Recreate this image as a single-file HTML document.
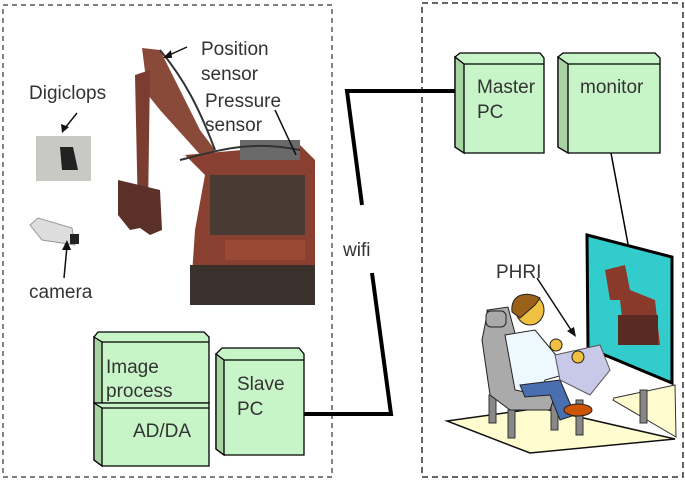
<!DOCTYPE html>
<html><head><meta charset="utf-8"><style>
html,body{margin:0;padding:0;background:#fff;}
svg{display:block;}
text{font-family:"Liberation Sans","DejaVu Sans",sans-serif;fill:#333;}
</style></head><body>
<svg width="685" height="481" viewBox="0 0 685 481" xmlns="http://www.w3.org/2000/svg">
<rect x="3" y="5" width="329" height="472" fill="none" stroke="#333" stroke-width="1.2" stroke-dasharray="5,4"/>
<rect x="422" y="3" width="261" height="474" fill="none" stroke="#333" stroke-width="1.5" stroke-dasharray="6,4"/>

<!-- robot photo approximation -->
<g>
<polygon points="142,48 160,50 200,130 215,150 205,160 160,110 148,95" fill="#8a4a3a"/>
<polygon points="135,75 150,70 148,210 138,215" fill="#7b3d30"/>
<polygon points="118,180 160,190 162,230 150,235 140,228 130,230 118,215" fill="#5a3028"/>
<polygon points="185,155 300,145 315,160 315,305 190,305 195,230 205,175" fill="#8a4030"/>
<rect x="210" y="175" width="95" height="60" fill="#4a3a34"/>
<rect x="225" y="240" width="80" height="20" fill="#9a4a34"/>
<rect x="190" y="265" width="125" height="40" fill="#3a302c"/>
<rect x="240" y="140" width="60" height="20" fill="#6a6a6a"/>
<path d="M160,50 C185,80 200,110 215,150 M180,160 C220,150 250,140 300,150" stroke="#333" stroke-width="2" fill="none"/>
</g>
<!-- digiclops -->
<rect x="36" y="136" width="55" height="45" fill="#c8c8c4"/>
<polygon points="60,147 73,147 78,170 62,170" fill="#222"/>
<!-- camera -->
<polygon points="30,225 38,218 72,228 75,245 42,240" fill="#ddd" stroke="#999"/>
<rect x="70" y="234" width="9" height="10" fill="#222"/>

<text x="201" y="55" font-size="19">Position</text>
<text x="201" y="80" font-size="19">sensor</text>
<text x="205" y="107" font-size="19">Pressure</text>
<text x="205" y="131" font-size="19">sensor</text>
<text x="29" y="99" font-size="19">Digiclops</text>
<text x="29" y="298" font-size="19">camera</text>
<line x1="187" y1="47" x2="165" y2="57" stroke="#111" stroke-width="1.5"/>
<polygon points="163,58 171,50 172,58" fill="#111"/>
<line x1="77" y1="113" x2="65" y2="128" stroke="#111" stroke-width="1.5"/>
<polygon points="62,133 61,124 69,127" fill="#111"/>
<line x1="64" y1="278" x2="67" y2="246" stroke="#111" stroke-width="1.5"/>
<polygon points="67,240 62,250 71,250" fill="#111"/>
<line x1="275" y1="110" x2="296" y2="155" stroke="#111" stroke-width="1.5"/>

<!-- connectors -->
<polyline points="455,91 347,91 362,205" fill="none" stroke="#000" stroke-width="4"/>
<polyline points="372,273 391,414 304,414" fill="none" stroke="#000" stroke-width="4"/>
<text x="343" y="256" font-size="19">wifi</text>

<!-- boxes -->
<g stroke="#000" stroke-width="1.3">
<polygon points="94,337 98,332 204,332 209,337 209,403 94,403" fill="#c8f5c8"/>
<polygon points="94,337 102,342 102,403 94,403" fill="#a8d4a4"/>
<line x1="102" y1="342" x2="209" y2="342"/>
<polygon points="94,403 209,403 209,466 102,466 94,460" fill="#c8f5c8"/>
<polygon points="94,403 102,408 102,466 94,460" fill="#a8d4a4"/>
<line x1="102" y1="408" x2="209" y2="408"/>
<polygon points="216,354 222,348 299,348 304,354 304,455 224,455 216,449" fill="#c8f5c8"/>
<polygon points="216,354 224,360 224,455 216,449" fill="#a8d4a4"/>
<line x1="224" y1="360" x2="304" y2="360"/>

<polygon points="455,57 460,53 540,53 544,58 544,153 464,153 455,147" fill="#c8f5c8"/>
<polygon points="455,57 464,64 464,153 455,147" fill="#a8d4a4"/>
<line x1="464" y1="64" x2="544" y2="64"/>
<polygon points="558,57 563,53 655,53 660,58 660,153 568,153 558,147" fill="#c8f5c8"/>
<polygon points="558,57 568,64 568,153 558,147" fill="#a8d4a4"/>
<line x1="568" y1="64" x2="660" y2="64"/>
</g>
<text x="106" y="373" font-size="19">Image</text>
<text x="106" y="397" font-size="19">process</text>
<text x="133" y="437" font-size="19">AD/DA</text>
<text x="237" y="390" font-size="19">Slave</text>
<text x="237" y="415" font-size="19">PC</text>
<text x="477" y="93" font-size="19">Master</text>
<text x="477" y="118" font-size="19">PC</text>
<text x="580" y="93" font-size="19">monitor</text>

<!-- right scene -->
<line x1="611" y1="153" x2="628" y2="244" stroke="#000" stroke-width="1.5"/>
<polygon points="614,398 675,385 676,437 613,400" fill="#fffdd0" stroke="#333"/>
<polygon points="447,421 540,408 675,439 530,453" fill="#fffdd0" stroke="#111" stroke-width="1.5"/>
<polygon points="587,235 672,257 672,383 588,348" fill="#33cccc" stroke="#000" stroke-width="3"/>
<polygon points="605,270 625,265 630,290 655,300 660,345 625,345 620,300 610,300" fill="#8a3a2a"/>
<rect x="618" y="315" width="40" height="30" fill="#5a2a22"/>
<!-- chair -->
<rect x="487" y="310" width="8" height="35" fill="#888" stroke="#333"/>
<rect x="489" y="395" width="7" height="28" fill="#888" stroke="#333"/>
<rect x="508" y="410" width="7" height="28" fill="#888" stroke="#333"/>
<rect x="551" y="400" width="7" height="30" fill="#888" stroke="#333"/>
<rect x="576" y="400" width="7" height="35" fill="#888" stroke="#333"/>
<rect x="640" y="390" width="7" height="33" fill="#888" stroke="#333"/>
<polygon points="488,310 508,307 530,390 555,395 550,410 510,410 490,395 482,340" fill="#aaa" stroke="#222"/>
<rect x="486" y="311" width="20" height="16" rx="5" fill="#aaa" stroke="#222"/>
<!-- person -->
<polygon points="505,335 535,330 560,360 563,375 545,380 540,395 515,390" fill="#eef8ff" stroke="#222"/>
<polygon points="520,385 560,380 575,415 560,420 550,395 525,397" fill="#4a6fb0" stroke="#222"/>
<ellipse cx="578" cy="410" rx="14" ry="6" fill="#cc5500" stroke="#222"/>
<ellipse cx="530" cy="310" rx="14" ry="15" fill="#f0c040" stroke="#222"/>
<path d="M512,312 C510,295 525,290 540,298 L535,305 L520,318Z" fill="#9a6018" stroke="#222"/>
<polygon points="555,355 600,345 610,370 590,395 560,380" fill="#c8c8e8" stroke="#555"/>
<circle cx="556" cy="345" r="6" fill="#f0c040" stroke="#222"/>
<circle cx="578" cy="357" r="6" fill="#f0c040" stroke="#222"/>
<text x="496" y="278" font-size="19">PHRI</text>
<line x1="537" y1="278" x2="573" y2="333" stroke="#111" stroke-width="1.5"/>
<polygon points="576,337 567,331 574,327" fill="#111"/>
</svg>
</body></html>
